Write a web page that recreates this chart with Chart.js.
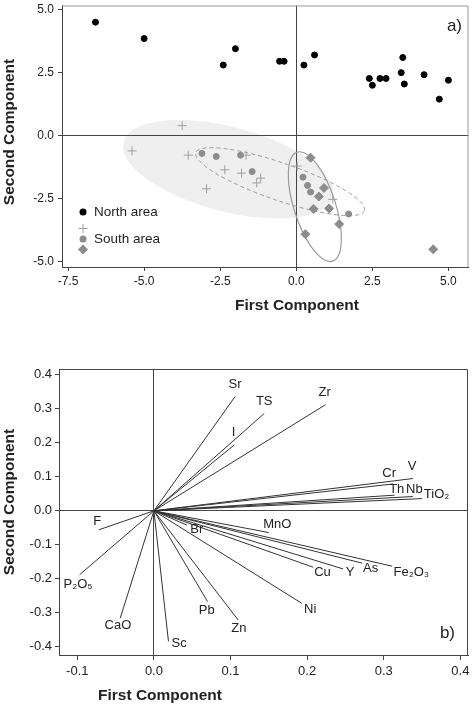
<!DOCTYPE html>
<html>
<head>
<meta charset="utf-8">
<script src="https://cdn.jsdelivr.net/npm/chart.js@4.4.1/dist/chart.umd.min.js"></script>
<style>
  body { margin: 0; background: #fff; }
  #wrap { position: relative; width: 474px; height: 707px; }
  #scoreChart { position: absolute; left: 0; top: 0; }
  #loadChart { position: absolute; left: 0; top: 340px; }
</style>
</head>
<body>
<div id="wrap">
  <canvas id="scoreChart" width="474" height="320"></canvas>
  <canvas id="loadChart" width="474" height="367"></canvas>
</div>
<script>
// ---- a) component scores ----
const northX = [-6.6, -5.0, -2.0, -2.4, -0.55, -0.4, 0.25, 0.6, 2.4, 2.5, 2.75, 2.95, 3.45, 3.5, 3.55, 4.2, 4.7, 5.0];
const northY = [4.5, 3.85, 3.45, 2.8, 2.95, 2.95, 2.8, 3.2, 2.27, 2.0, 2.27, 2.27, 2.5, 3.1, 2.05, 2.42, 1.45, 2.2];
const southCrossX = [-3.75, -5.4, -3.55, -1.65, -2.35, -1.8, -1.17, -1.3, -2.95, 0.03, 1.2];
const southCrossY = [0.4, -0.6, -0.77, -0.77, -1.35, -1.48, -1.68, -1.87, -2.1, -1.2, -2.52];
const southDotX = [-3.1, -2.63, -1.83, -1.45, 0.22, 0.37, 0.47, 1.72];
const southDotY = [-0.7, -0.82, -0.77, -1.42, -1.64, -1.97, -2.23, -3.1];
const southDiamondX = [0.47, 0.91, 0.74, 0.57, 1.08, 1.41, 0.3, 4.5];
const southDiamondY = [-0.87, -2.07, -2.41, -2.9, -2.88, -3.5, -3.9, -4.5];

// ellipses: centre, end of one semi-axis, end of the other one (data units)
const shadeEllipse = { c: [-2.24, -1.33], u: [1.2, -2.42], v: [-1.88, 0.29] };
const dashedEllipse = { c: [-0.53, -1.82], u: [2.24, -2.97], v: [-0.73, -2.52] };
const solidEllipse = { c: [0.61, -2.81], u: [1.19, -4.97], v: [1.26, -2.56] };

const scoreTicksX = [-7.5, -5.0, -2.5, 0.0, 2.5, 5.0];
const scoreTicksY = [-5.0, -2.5, 0.0, 2.5, 5.0];

// ---- b) loadings ----
const varNames = ['Sr', 'TS', 'I', 'Zr', 'Cr', 'V', 'Th', 'Nb', 'TiO₂', 'MnO', 'Br', 'Cu', 'Y', 'As', 'Fe₂O₃', 'Ni', 'Zn', 'Pb', 'Sc', 'CaO', 'P₂O₅', 'F'];
const load1 = [0.106, 0.144, 0.105, 0.224, 0.312, 0.338, 0.314, 0.338, 0.350, 0.150, 0.043, 0.208, 0.247, 0.272, 0.311, 0.193, 0.110, 0.070, 0.019, -0.044, -0.097, -0.072];
const load2 = [0.336, 0.286, 0.194, 0.312, 0.079, 0.095, 0.046, 0.042, 0.036, -0.064, -0.042, -0.166, -0.171, -0.154, -0.163, -0.272, -0.321, -0.267, -0.384, -0.316, -0.188, -0.056];
const labelX = [0.106, 0.144, 0.104, 0.223, 0.307, 0.337, 0.317, 0.340, 0.369, 0.161, 0.056, 0.220, 0.256, 0.283, 0.336, 0.204, 0.111, 0.069, 0.033, -0.047, -0.099, -0.074];
const labelY = [0.373, 0.322, 0.230, 0.348, 0.111, 0.130, 0.064, 0.064, 0.047, -0.039, -0.056, -0.180, -0.180, -0.169, -0.180, -0.291, -0.346, -0.294, -0.391, -0.338, -0.216, -0.032];

const loadTicksX = [-0.1, 0.0, 0.1, 0.2, 0.3, 0.4];
const loadTicksY = [-0.4, -0.3, -0.2, -0.1, 0.0, 0.1, 0.2, 0.3, 0.4];

const FONT = "'Liberation Sans', Arial, sans-serif";

function toPoints(xs, ys) {
    return xs.map((x, i) => ({ x: x, y: ys[i] }));
}

function axis(pos, min, max, ticks, size, fontSize, tickLen, pad) {
    return {
        type: 'linear',
        position: pos,
        min: min,
        max: max,
        afterBuildTicks: function (s) {
            s.ticks = ticks.map(v => ({ value: v }));
        },
        afterFit: function (s) {
            if (pos === 'left') s.width = size; else s.height = size;
            s.paddingTop = 0; s.paddingBottom = 0; s.paddingLeft = 0; s.paddingRight = 0;
        },
        grid: {
            color: c => (c.tick && Math.abs(c.tick.value) < 1e-9) ? '#444' : 'rgba(0,0,0,0)',
            tickColor: '#444',
            tickLength: tickLen,
            lineWidth: 1
        },
        border: { color: '#444', width: 1 },
        ticks: {
            color: '#222',
            font: { family: FONT, size: fontSize },
            padding: pad,
            maxRotation: 0,
            autoSkip: false,
            callback: v => Number(v).toFixed(1)
        }
    };
}

function ellipsePath(chart, e) {
    const xs = chart.scales.x, ys = chart.scales.y, ctx = chart.ctx;
    const cx = xs.getPixelForValue(e.c[0]), cy = ys.getPixelForValue(e.c[1]);
    const ux = xs.getPixelForValue(e.u[0]) - cx, uy = ys.getPixelForValue(e.u[1]) - cy;
    const vx = xs.getPixelForValue(e.v[0]) - cx, vy = ys.getPixelForValue(e.v[1]) - cy;
    ctx.save();
    ctx.transform(ux, uy, vx, vy, cx, cy);
    ctx.beginPath();
    ctx.arc(0, 0, 1, 0, Math.PI * 2);
    ctx.closePath();
    ctx.restore();
}

// frame + axis titles + panel letter, shared by both charts
const decorPlugin = {
    id: 'decor',
    afterDraw(chart, args, opts) {
        const ctx = chart.ctx, a = chart.chartArea;
        ctx.save();
        ctx.strokeStyle = opts.frameColor;
        ctx.lineWidth = 1;
        ctx.beginPath();
        ctx.moveTo(a.left, a.top + 0.5);
        ctx.lineTo(a.right - 0.5, a.top + 0.5);
        ctx.lineTo(a.right - 0.5, a.bottom);
        ctx.stroke();

        ctx.fillStyle = '#222';
        ctx.font = 'bold 15.5px ' + FONT;
        ctx.textAlign = 'center';
        ctx.textBaseline = 'middle';
        ctx.fillText(opts.xTitle, opts.xTitleAt[0], opts.xTitleAt[1]);
        ctx.save();
        ctx.translate(opts.yTitleAt[0], opts.yTitleAt[1]);
        ctx.rotate(-Math.PI / 2);
        ctx.fillText(opts.yTitle, 0, 0);
        ctx.restore();

        ctx.font = '17px ' + FONT;
        ctx.textAlign = 'right';
        ctx.fillText(opts.letter, opts.letterAt[0], opts.letterAt[1]);
        ctx.restore();
    }
};

const ellipsePlugin = {
    id: 'ellipses',
    beforeDraw(chart) {
        ellipsePath(chart, shadeEllipse);
        chart.ctx.fillStyle = '#efefef';
        chart.ctx.fill();
    },
    beforeDatasetsDraw(chart) {
        const ctx = chart.ctx;
        ctx.save();
        ctx.strokeStyle = '#9a9a9a';
        ctx.lineWidth = 1;
        ctx.setLineDash([4, 3]);
        ellipsePath(chart, dashedEllipse);
        ctx.stroke();
        ctx.setLineDash([]);
        ctx.lineWidth = 1.2;
        ellipsePath(chart, solidEllipse);
        ctx.stroke();
        ctx.restore();
    }
};

const legendPlugin = {
    id: 'areaLegend',
    afterDraw(chart) {
        const ctx = chart.ctx, a = chart.chartArea;
        const mx = a.left + 21, tx = a.left + 32;
        ctx.save();
        ctx.fillStyle = '#000';
        ctx.beginPath(); ctx.arc(mx, 212, 3.5, 0, Math.PI * 2); ctx.fill();
        ctx.strokeStyle = '#a0a0a0'; ctx.lineWidth = 1;
        ctx.beginPath();
        ctx.moveTo(mx - 4.5, 228.5); ctx.lineTo(mx + 4.5, 228.5);
        ctx.moveTo(mx, 224); ctx.lineTo(mx, 233);
        ctx.stroke();
        ctx.fillStyle = '#8c8c8c';
        ctx.beginPath(); ctx.arc(mx, 239, 3.5, 0, Math.PI * 2); ctx.fill();
        ctx.beginPath();
        ctx.moveTo(mx - 5, 249.5); ctx.lineTo(mx, 244.5); ctx.lineTo(mx + 5, 249.5); ctx.lineTo(mx, 254.5);
        ctx.closePath(); ctx.fill();
        ctx.fillStyle = '#222';
        ctx.font = '13.5px ' + FONT;
        ctx.textAlign = 'left';
        ctx.textBaseline = 'middle';
        ctx.fillText('North area', tx, 212);
        ctx.fillText('South area', tx, 239);
        ctx.restore();
    }
};

const labelPlugin = {
    id: 'varLabels',
    afterDatasetsDraw(chart) {
        const ctx = chart.ctx, xs = chart.scales.x, ys = chart.scales.y;
        ctx.save();
        ctx.fillStyle = '#222';
        ctx.font = '13px ' + FONT;
        ctx.textAlign = 'center';
        ctx.textBaseline = 'middle';
        varNames.forEach((name, i) => {
            ctx.fillText(name, xs.getPixelForValue(labelX[i]), ys.getPixelForValue(labelY[i]));
        });
        ctx.restore();
    }
};

new Chart(document.getElementById('scoreChart'), {
    type: 'scatter',
    data: {
        datasets: [
            { label: 'North area', data: toPoints(northX, northY), pointStyle: 'circle', pointRadius: 3, borderWidth: 1, backgroundColor: '#000', borderColor: '#000' },
            { label: 'South area +', data: toPoints(southCrossX, southCrossY), pointStyle: 'cross', pointRadius: 4.5, borderWidth: 1, borderColor: '#a0a0a0' },
            { label: 'South area o', data: toPoints(southDotX, southDotY), pointStyle: 'circle', pointRadius: 3, borderWidth: 1, backgroundColor: '#8c8c8c', borderColor: '#8c8c8c' },
            { label: 'South area d', data: toPoints(southDiamondX, southDiamondY), pointStyle: 'rectRot', pointRadius: 4.5, borderWidth: 1, backgroundColor: '#8c8c8c', borderColor: '#8c8c8c' }
        ]
    },
    options: {
        responsive: false,
        animation: false,
        layout: { padding: { left: 0, top: 2, right: 2, bottom: 0 } },
        scales: {
            x: axis('bottom', -7.7, 5.66, scoreTicksX, 53, 12, 4, 3),
            y: axis('left', -5.2, 5.16, scoreTicksY, 62, 12, 4, 4)
        },
        plugins: {
            legend: { display: false },
            tooltip: { enabled: false },
            decor: {
                frameColor: '#999',
                xTitle: 'First Component', xTitleAt: [297, 306],
                yTitle: 'Second Component', yTitleAt: [9.5, 132],
                letter: 'a)', letterAt: [462, 26]
            }
        }
    },
    plugins: [ellipsePlugin, legendPlugin, decorPlugin]
});

new Chart(document.getElementById('loadChart'), {
    type: 'scatter',
    data: {
        datasets: varNames.map((name, i) => ({
            label: name,
            data: [{ x: 0, y: 0 }, { x: load1[i], y: load2[i] }],
            showLine: true,
            pointRadius: 0,
            borderWidth: 1,
            borderColor: '#333'
        }))
    },
    options: {
        responsive: false,
        animation: false,
        layout: { padding: { left: 0, top: 29, right: 6, bottom: 0 } },
        scales: {
            x: axis('bottom', -0.1239, 0.41, loadTicksX, 52, 13, 5, 4),
            y: axis('left', -0.424, 0.417, loadTicksY, 59, 13, 4, 3)
        },
        plugins: {
            legend: { display: false },
            tooltip: { enabled: false },
            decor: {
                frameColor: '#444',
                xTitle: 'First Component', xTitleAt: [160, 356],
                yTitle: 'Second Component', yTitleAt: [9.5, 162],
                letter: 'b)', letterAt: [455, 293]
            }
        }
    },
    plugins: [labelPlugin, decorPlugin]
});
</script>
</body>
</html>
